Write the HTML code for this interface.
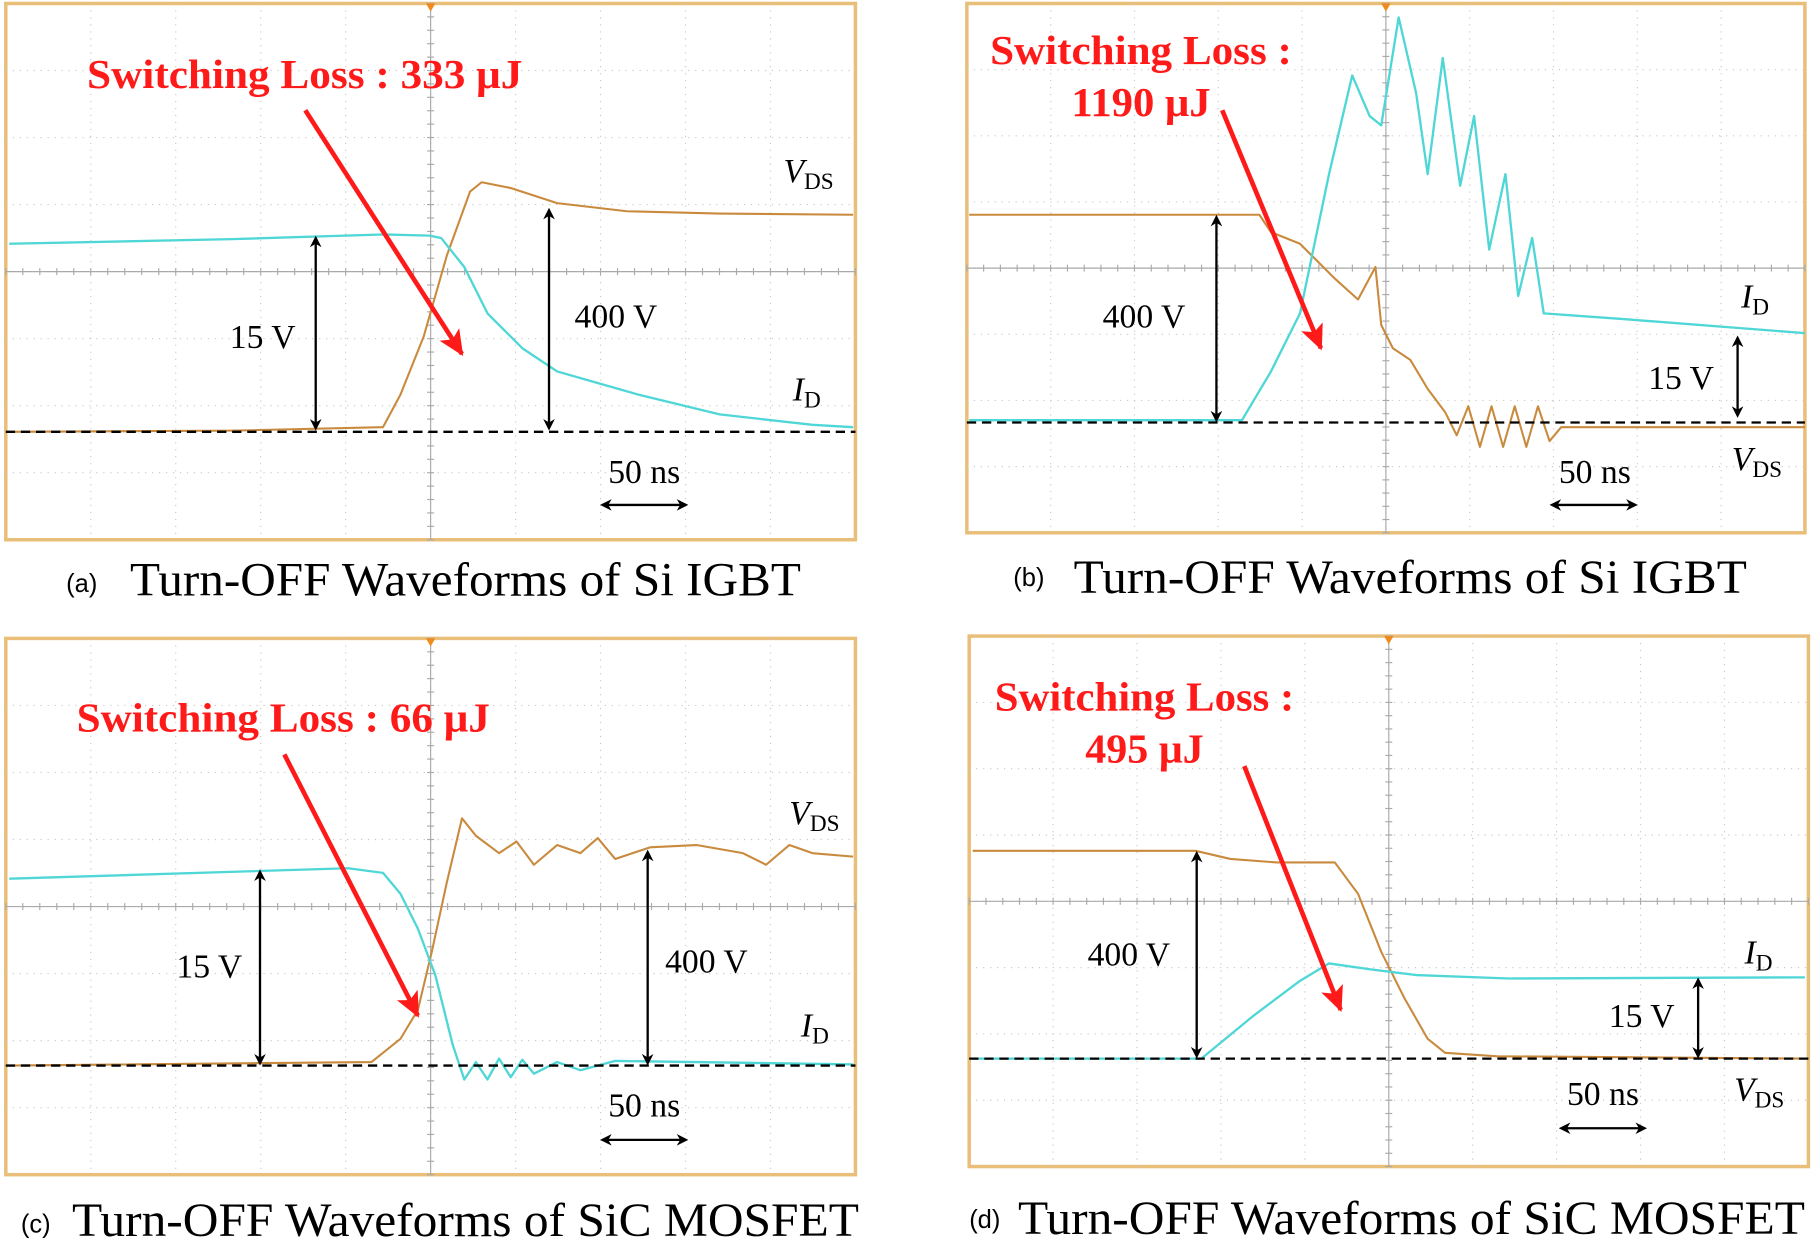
<!DOCTYPE html>
<html><head><meta charset="utf-8"><style>
html,body{margin:0;padding:0;background:#fff;}
svg{display:block;}
.red{fill:#ff1a1a;font-family:"Liberation Serif",serif;font-weight:bold;font-size:36px;}
.lab{fill:#000;font-family:"Liberation Serif",serif;font-size:29px;}
.cap{fill:#000;font-family:"Liberation Serif",serif;font-size:41px;}
.capl{fill:#000;font-family:"Liberation Sans",sans-serif;font-size:22px;}
.sub{font-size:20px;}
.cy{fill:none;stroke:#4fd6d6;stroke-width:2;stroke-linejoin:round;}
.or{fill:none;stroke:#c98a3e;stroke-width:1.8;stroke-linejoin:round;}
.dash{stroke:#000;stroke-width:2;stroke-dasharray:8,5;}
.arr{stroke:#000;stroke-width:2;}
.rarr{stroke:#ff1a1a;stroke-width:4;}
</style></head><body>
<svg id="s" width="1820" height="1242" viewBox="0 0 1568 1070" preserveAspectRatio="none" xmlns="http://www.w3.org/2000/svg">
<defs>
<marker id="ah" markerWidth="10" markerHeight="10" refX="8" refY="5" orient="auto-start-reverse" markerUnits="userSpaceOnUse"><path d="M0,0 L10,5 L0,10 L3,5 z" fill="#000"/></marker>
<marker id="rh" markerWidth="24" markerHeight="24" refX="20" refY="12" orient="auto" markerUnits="userSpaceOnUse"><path d="M0,2 L22,12 L0,22 L5,12 z" fill="#ff1a1a"/></marker>
</defs>
<g id="grids"></g>

<!-- (a) -->
<polyline class="or" points="8,372 200,371 330,368 345,340 365,290 385,220 405,165 415,157 440,162 480,175 540,182 620,184 735,185"/>
<polyline class="cy" points="8,210 200,206 330,202 370,203 380,205 400,230 420,270 450,300 480,320 550,340 620,357 700,366 735,368"/>
<line class="dash" x1="5" y1="372" x2="737" y2="372"/>
<line class="arr" x1="272" y1="205" x2="272" y2="369" marker-start="url(#ah)" marker-end="url(#ah)"/>
<line class="arr" x1="473" y1="181" x2="473" y2="369" marker-start="url(#ah)" marker-end="url(#ah)"/>
<text class="lab" x="198" y="300">15 V</text>
<text class="lab" x="495" y="282">400 V</text>
<text class="lab" x="675" y="157" font-style="italic">V<tspan class="sub" font-style="normal" dy="6">DS</tspan></text>
<text class="lab" x="683" y="345" font-style="italic">I<tspan class="sub" font-style="normal" dy="6">D</tspan></text>
<text class="lab" x="524" y="416">50 ns</text>
<line class="arr" x1="519" y1="435" x2="591" y2="435" marker-start="url(#ah)" marker-end="url(#ah)"/>
<text class="red" x="75" y="76" textLength="375" lengthAdjust="spacingAndGlyphs">Switching Loss : 333 μJ</text>
<line class="rarr" x1="263" y1="95" x2="398" y2="305" marker-end="url(#rh)"/>
<text class="capl" x="57" y="510">(a)</text>
<text class="cap" x="112" y="513" textLength="578" lengthAdjust="spacingAndGlyphs">Turn-OFF Waveforms of Si IGBT</text>

<!-- (b) -->
<polyline class="or" points="835,185 1085,185 1095,200 1120,210 1150,240 1170,258 1185,230 1190,280 1200,300 1215,310 1230,335 1245,355 1255,375 1265,350 1275,385 1285,350 1295,385 1305,350 1315,385 1325,350 1335,380 1345,368 1555,368"/>
<polyline class="cy" points="835,362 1070,362 1095,320 1120,270 1145,150 1165,65 1180,100 1190,108 1205,15 1220,80 1230,150 1243,50 1258,160 1270,100 1283,215 1297,150 1308,255 1320,205 1330,270 1400,275 1555,287"/>
<line class="dash" x1="833" y1="364" x2="1555" y2="364"/>
<line class="arr" x1="1048" y1="187" x2="1048" y2="362" marker-start="url(#ah)" marker-end="url(#ah)"/>
<line class="arr" x1="1497" y1="291" x2="1497" y2="358" marker-start="url(#ah)" marker-end="url(#ah)"/>
<text class="lab" x="950" y="282">400 V</text>
<text class="lab" x="1420" y="335">15 V</text>
<text class="lab" x="1500" y="265" font-style="italic">I<tspan class="sub" font-style="normal" dy="6">D</tspan></text>
<text class="lab" x="1492" y="405" font-style="italic">V<tspan class="sub" font-style="normal" dy="6">DS</tspan></text>
<text class="lab" x="1343" y="416">50 ns</text>
<line class="arr" x1="1337" y1="435" x2="1409" y2="435" marker-start="url(#ah)" marker-end="url(#ah)"/>
<text class="red" x="853" y="55" textLength="260" lengthAdjust="spacingAndGlyphs">Switching Loss :</text>
<text class="red" x="923" y="100" textLength="120" lengthAdjust="spacingAndGlyphs">1190 μJ</text>
<line class="rarr" x1="1053" y1="95" x2="1138" y2="300" marker-end="url(#rh)"/>
<text class="capl" x="873" y="505">(b)</text>
<text class="cap" x="925" y="511" textLength="580" lengthAdjust="spacingAndGlyphs">Turn-OFF Waveforms of Si IGBT</text>

<!-- (c) -->
<polyline class="or" points="8,918 320,915 345,895 360,870 372,820 385,760 398,705 410,720 430,735 445,725 460,745 480,728 500,735 515,722 530,740 560,730 600,728 640,735 660,745 680,728 700,735 735,738"/>
<polyline class="cy" points="8,757 300,748 330,752 345,770 360,800 375,840 390,900 400,930 410,915 420,930 430,912 440,928 450,913 460,925 480,915 500,922 530,914 735,917"/>
<line class="dash" x1="5" y1="918" x2="737" y2="918"/>
<line class="arr" x1="224" y1="751" x2="224" y2="916" marker-start="url(#ah)" marker-end="url(#ah)"/>
<line class="arr" x1="558" y1="734" x2="558" y2="916" marker-start="url(#ah)" marker-end="url(#ah)"/>
<text class="lab" x="152" y="842">15 V</text>
<text class="lab" x="573" y="838">400 V</text>
<text class="lab" x="680" y="710" font-style="italic">V<tspan class="sub" font-style="normal" dy="6">DS</tspan></text>
<text class="lab" x="690" y="893" font-style="italic">I<tspan class="sub" font-style="normal" dy="6">D</tspan></text>
<text class="lab" x="524" y="962">50 ns</text>
<line class="arr" x1="519" y1="982" x2="591" y2="982" marker-start="url(#ah)" marker-end="url(#ah)"/>
<text class="red" x="66" y="630" textLength="356" lengthAdjust="spacingAndGlyphs">Switching Loss : 66 μJ</text>
<line class="rarr" x1="245" y1="650" x2="360" y2="875" marker-end="url(#rh)"/>
<text class="capl" x="18" y="1062">(c)</text>
<text class="cap" x="62" y="1065" textLength="678" lengthAdjust="spacingAndGlyphs">Turn-OFF Waveforms of SiC MOSFET</text>

<!-- (d) -->
<polyline class="or" points="838,733 1030,733 1060,740 1100,743 1150,743 1170,770 1190,820 1210,860 1230,895 1245,907 1290,910 1555,912"/>
<polyline class="cy" points="838,912 1035,912 1080,875 1120,845 1145,830 1180,835 1220,840 1300,843 1555,842"/>
<line class="dash" x1="835" y1="912" x2="1558" y2="912"/>
<line class="arr" x1="1031" y1="735" x2="1031" y2="910" marker-start="url(#ah)" marker-end="url(#ah)"/>
<line class="arr" x1="1463" y1="844" x2="1463" y2="910" marker-start="url(#ah)" marker-end="url(#ah)"/>
<text class="lab" x="937" y="832">400 V</text>
<text class="lab" x="1386" y="885">15 V</text>
<text class="lab" x="1503" y="830" font-style="italic">I<tspan class="sub" font-style="normal" dy="6">D</tspan></text>
<text class="lab" x="1494" y="948" font-style="italic">V<tspan class="sub" font-style="normal" dy="6">DS</tspan></text>
<text class="lab" x="1350" y="952">50 ns</text>
<line class="arr" x1="1345" y1="972" x2="1417" y2="972" marker-start="url(#ah)" marker-end="url(#ah)"/>
<text class="red" x="857" y="612" textLength="258" lengthAdjust="spacingAndGlyphs">Switching Loss :</text>
<text class="red" x="935" y="657" textLength="102" lengthAdjust="spacingAndGlyphs">495 μJ</text>
<line class="rarr" x1="1072" y1="660" x2="1155" y2="870" marker-end="url(#rh)"/>
<text class="capl" x="835" y="1058">(d)</text>
<text class="cap" x="877" y="1063" textLength="678" lengthAdjust="spacingAndGlyphs">Turn-OFF Waveforms of SiC MOSFET</text>
</svg>
<script>
(function(){
var g=document.getElementById('grids'),h='';
var P=[[5,3,737,465],[833,3,1555,459],[5,550,737,1012],[835,548,1558,1005]];
P.forEach(function(p){
 var x0=p[0],y0=p[1],x1=p[2],y1=p[3],w=x1-x0,ht=y1-y0,cx=(x0+x1)/2,cy=(y0+y1)/2;
 h+='<rect x="'+x0+'" y="'+y0+'" width="'+w+'" height="'+ht+'" fill="#fff" stroke="#e8be78" stroke-width="3"/>';
 for(var i=1;i<10;i++){var x=x0+w*i/10;h+='<line x1="'+x+'" y1="'+y0+'" x2="'+x+'" y2="'+y1+'" stroke="#c8c8c8" stroke-width="1" stroke-dasharray="1,5"/>';}
 for(var j=1;j<8;j++){var y=y0+ht*j/8;h+='<line x1="'+x0+'" y1="'+y+'" x2="'+x1+'" y2="'+y+'" stroke="#c8c8c8" stroke-width="1" stroke-dasharray="1,5"/>';}
 h+='<line x1="'+cx+'" y1="'+y0+'" x2="'+cx+'" y2="'+y1+'" stroke="#aaa" stroke-width="1"/>';
 h+='<line x1="'+x0+'" y1="'+cy+'" x2="'+x1+'" y2="'+cy+'" stroke="#aaa" stroke-width="1"/>';
 for(var k=0;k<=50;k++){var x=x0+w*k/50;h+='<line x1="'+x+'" y1="'+(cy-3)+'" x2="'+x+'" y2="'+(cy+3)+'" stroke="#aaa"/>';}
 for(var k=0;k<=40;k++){var y=y0+ht*k/40;h+='<line x1="'+(cx-3)+'" y1="'+y+'" x2="'+(cx+3)+'" y2="'+y+'" stroke="#aaa"/>';}
 h+='<path d="M'+(cx-4)+','+y0+' L'+(cx+4)+','+y0+' L'+cx+','+(y0+7)+'z" fill="#f08a1a"/>';
});
g.innerHTML=h;
})();
</script>
</body></html>
